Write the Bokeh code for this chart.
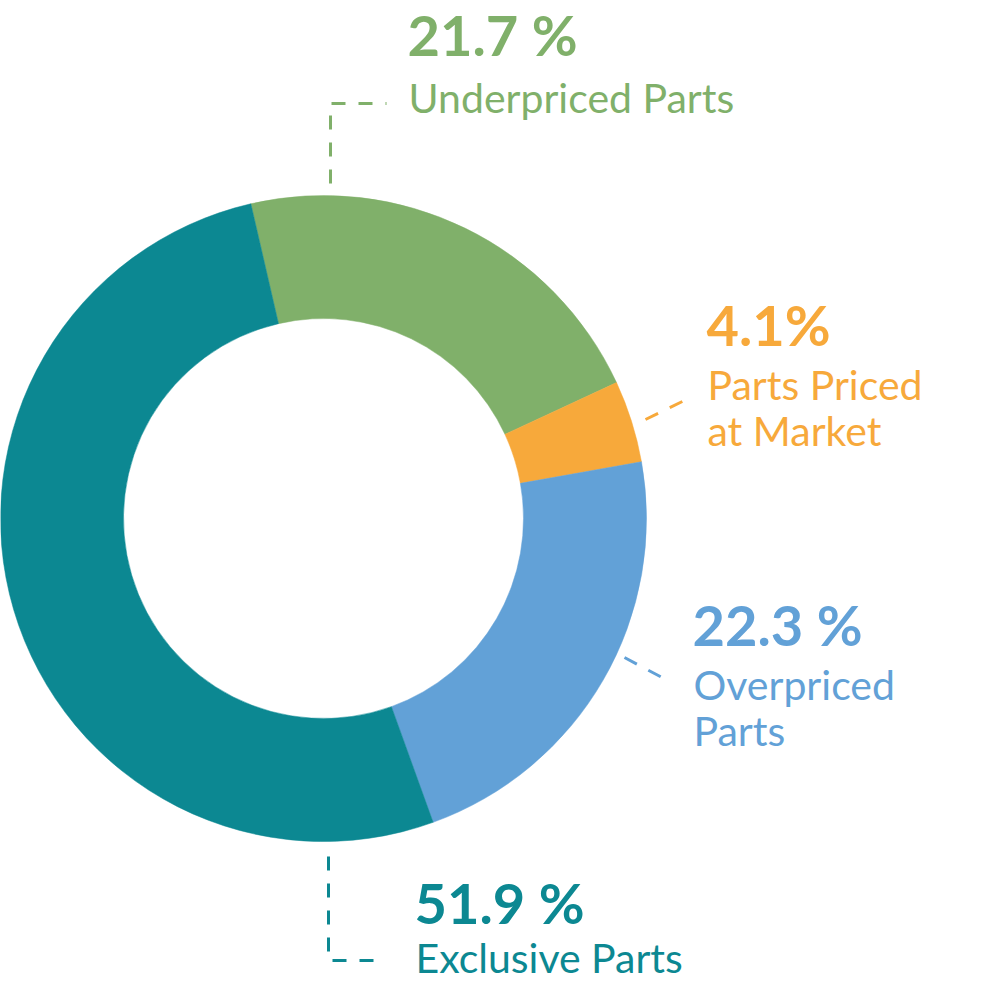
import math

from bokeh.embed import file_html
from bokeh.models import ColumnDataSource, Range1d
from bokeh.plotting import figure
from bokeh.resources import INLINE
from bokeh.core.properties import value

# data
categories = ["Underpriced Parts", "Parts Priced at Market", "Overpriced Parts", "Exclusive Parts"]
shares = [21.7, 4.1, 22.3, 51.9]
pct_labels = ["21.7 %", "4.1%", "22.3 %", "51.9 %"]
label_lines = [["Underpriced Parts"], ["Parts Priced", "at Market"], ["Overpriced", "Parts"], ["Exclusive Parts"]]
colors = ["#80b06a", "#f7a93b", "#62a1d7", "#0c8892"]

# layout (picture pixels, y measured from top)
W, H = 973, 983
TOP = 999
cx, cy = 323, 518
r_out, r_in = 323, 200
start_cw = -13.0  # degrees, clockwise from 12 o'clock

PCT_SIZE, LAB_SIZE = 56, 41
pct_pos = [(407, 55), (706, 345), (692, 645), (414, 923)]
lab_pos = [(408, [113]), (707, [400, 446]), (693, [700, 746]), (415, [973])]
leaders = [
    ([330, 330, 386], [183, 103, 103]),
    ([645, 690], [419, 397]),
    ([624, 669], [657, 681]),
    ([328, 328, 384], [856, 960, 960]),
]


def Y(y, size=0):
    # svg text sits ~0.38em below the requested baseline, compensate
    return TOP - (y - 0.38 * size)


p = figure(width=W, height=H, output_backend="svg", toolbar_location=None,
           x_range=Range1d(0, W), y_range=Range1d(TOP - H, TOP),
           min_border=0)
p.axis.visible = False
p.grid.visible = False
p.outline_line_color = None
p.background_fill_color = "white"
p.border_fill_color = "white"

# wedge angles from the shares
total = sum(shares)
starts, ends = [], []
acc = start_cw
for s in shares:
    a0 = acc
    acc += s / total * 360.0
    starts.append(math.radians(90 - a0))
    ends.append(math.radians(90 - acc))

src = ColumnDataSource(dict(cat=categories, start=starts, end=ends, color=colors))
p.annular_wedge(x=cx, y=Y(cy), inner_radius=r_in, outer_radius=r_out,
                start_angle="start", end_angle="end", direction="clock",
                fill_color="color", line_color="color", line_width=0.5, source=src)

for (xs, ys), c in zip(leaders, colors):
    p.line(xs, [Y(v) for v in ys], line_color=c, line_width=3, line_dash="14 13")

for (x, y), t, c in zip(pct_pos, pct_labels, colors):
    p.text(x=[x], y=[Y(y, PCT_SIZE)], text=[t], text_color=c, text_font=value("Lato"),
           text_font_style="bold", text_font_size=f"{PCT_SIZE}px", text_baseline="alphabetic")

for (x, ys), lines, c in zip(lab_pos, label_lines, colors):
    p.text(x=[x] * len(lines), y=[Y(v, LAB_SIZE) for v in ys], text=lines, text_color=c,
           text_font=value("Lato"), text_font_size=f"{LAB_SIZE}px", text_baseline="alphabetic")

open("out.html", "w").write(file_html(p, INLINE))
